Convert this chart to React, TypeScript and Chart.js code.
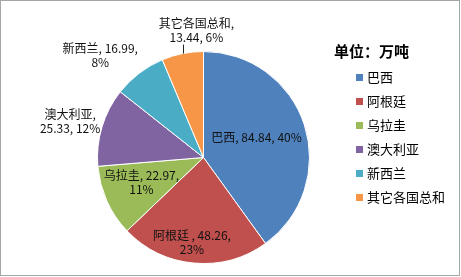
import { useEffect, useRef } from 'react';
import { Chart, registerables } from 'chart.js';
Chart.register(...registerables);

const categories = ['巴西', '阿根廷', '乌拉圭', '澳大利亚', '新西兰', '其它各国总和'];
const values = [84.84, 48.26, 22.97, 25.33, 16.99, 13.44];
const colors = ['#4F81BD', '#C0504D', '#9BBB59', '#8064A2', '#4BACC6', '#F79646'];
const legendTitle = '单位：万吨';
// label line breaking style per slice: 0 = one line, 1 = break after value, 2 = break after name
const labelBreaks = [0, 1, 1, 2, 1, 2];
const nameSeparators = [', ', ' , ', ', ', ', ', ', ', ', '];
// label anchor in polar coordinates: [angle from top clockwise (deg), fraction of radius]
const labelAnchors: [number, number][] = [
  [69.3, 0.535],
  [187.8, 0.805],
  [248.4, 0.63],
  [285.3, 1.305],
  [314.7, 1.37],
  [356.8, 1.2],
];
const leaderSlices = [5];

const FONT = '"Noto Sans CJK SC", "Noto Sans", sans-serif';

const decorPlugin = {
  id: 'decor',
  beforeDraw(chart: any) {
    const ctx = chart.ctx;
    ctx.save();
    ctx.fillStyle = '#ffffff';
    ctx.fillRect(0, 0, chart.width, chart.height);
    ctx.strokeStyle = '#a6a6a6';
    ctx.lineWidth = 1;
    ctx.strokeRect(0.5, 0.5, 459, 275);
    ctx.restore();
  },
  afterDatasetsDraw(chart: any) {
    const ctx = chart.ctx;
    const meta = chart.getDatasetMeta(0);
    const a0 = meta.data[0];
    const cx = a0.x, cy = a0.y, r = a0.outerRadius;
    const total = values.reduce((s, v) => s + v, 0);
    ctx.save();
    ctx.font = '12px ' + FONT;
    ctx.fillStyle = '#111111';
    ctx.textAlign = 'center';
    ctx.textBaseline = 'middle';
    const lh = 14;
    categories.forEach((name, i) => {
      const v = values[i].toFixed(2);
      const p = Math.round((values[i] / total) * 100) + '%';
      let lines: string[];
      if (labelBreaks[i] === 0) lines = [name + nameSeparators[i] + v + ', ' + p];
      else if (labelBreaks[i] === 1) lines = [name + nameSeparators[i] + v + ',', p];
      else lines = [name + ',', v + ', ' + p];
      const [deg, frac] = labelAnchors[i];
      const th = (deg * Math.PI) / 180;
      const x = cx + r * frac * Math.sin(th);
      const y = cy - r * frac * Math.cos(th);
      const y0 = y - ((lines.length - 1) * lh) / 2;
      lines.forEach((ln, k) => ctx.fillText(ln, x, y0 + k * lh));
      if (leaderSlices.includes(i)) {
        const arc = meta.data[i];
        const mid = (arc.startAngle + arc.endAngle) / 2;
        const ex = cx + r * Math.cos(mid);
        const ey = cy + r * Math.sin(mid);
        ctx.strokeStyle = '#222';
        ctx.lineWidth = 1;
        ctx.beginPath();
        ctx.moveTo(Math.round(ex) + 0.5, ey);
        ctx.lineTo(Math.round(ex) + 0.5, ey - 9);
        ctx.stroke();
      }
    });
    ctx.restore();
  },
  afterDraw(chart: any) {
    const ctx = chart.ctx;
    ctx.save();
    ctx.textBaseline = 'middle';
    ctx.textAlign = 'left';
    ctx.fillStyle = '#000';
    ctx.font = 'bold 15px ' + FONT;
    ctx.fillText(legendTitle, 334, 51);
    ctx.font = '13px ' + FONT;
    categories.forEach((name, i) => {
      const y = 77 + i * 24;
      ctx.fillStyle = colors[i];
      ctx.fillRect(356, Math.round(y - 3.5), 7, 7);
      ctx.fillStyle = '#000';
      ctx.fillText(name, 367, y);
    });
    ctx.restore();
  },
};

export default function App() {
  const ref = useRef<HTMLCanvasElement>(null);
  useEffect(() => {
    document.body.style.margin = '0';
    const chart = new Chart(ref.current!, {
      type: 'pie',
      data: {
        labels: categories,
        datasets: [
          {
            data: values,
            backgroundColor: colors,
            borderColor: '#ffffff',
            borderWidth: 1,
          },
        ],
      },
      options: {
        responsive: false,
        animation: false,
        devicePixelRatio: 1,
        layout: { padding: { left: 97, top: 51, right: 151, bottom: 13 } },
        plugins: {
          legend: { display: false },
          tooltip: { enabled: false },
        },
      },
      plugins: [decorPlugin],
    });
    return () => chart.destroy();
  }, []);
  return (
    <div style={{ width: 461, height: 277 }}>
      <canvas ref={ref} width={461} height={277} />
    </div>
  );
}
